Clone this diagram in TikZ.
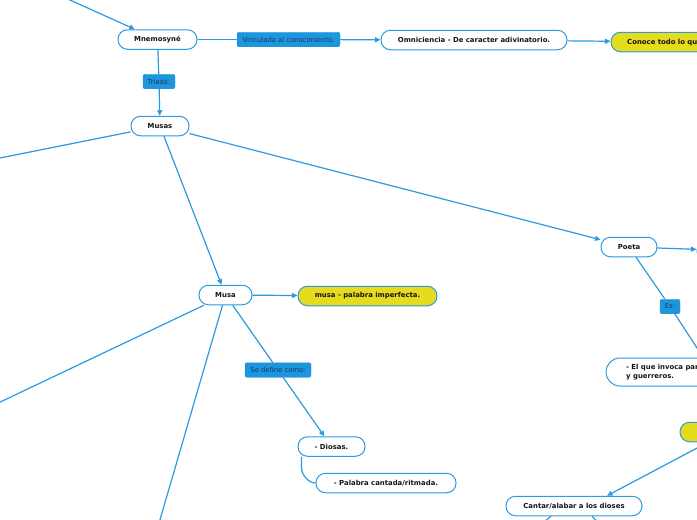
\documentclass[tikz,border=0pt]{standalone}
\usepackage{fontspec}
\setmainfont{DejaVu Sans}
\usetikzlibrary{arrows.meta}
\definecolor{edge}{HTML}{2B9AE0}
\definecolor{lbl}{HTML}{1E96DE}
\definecolor{yel}{HTML}{E6DC1E}
\definecolor{txt}{HTML}{151515}
\definecolor{lbltxt}{HTML}{1B3A5C}
\begin{document}
\begin{tikzpicture}[x=1pt,y=-1pt,
  topic/.style={draw=edge, line width=1pt, fill=white, rounded corners=9.5pt,
    minimum height=19.5pt, font=\fontsize{6.9}{8.6}\selectfont\bfseries, text=txt, inner sep=0pt},
  yeltopic/.style={topic, fill=yel},
  lab/.style={fill=lbl, draw=lbl, rounded corners=2pt, font=\fontsize{6.8}{8}\selectfont,
    text=lbltxt, inner sep=0pt, minimum height=14.5pt},
  plain/.style={font=\fontsize{6.9}{8.8}\selectfont\bfseries, text=txt, inner sep=0pt},
  conn/.style={draw=edge, line width=1.2pt},
  arr/.style={conn, -{Triangle[length=5.5pt,width=5pt]}}
]
\useasboundingbox (0,0) rectangle (697,520);
\clip (0,0) rectangle (697,520);

% nodes
\node[topic, minimum width=79pt] (mne) at (157.5,39.5) {Mnemosyné};
\node[lab, minimum width=103pt] (vin) at (288.5,39.5) {Vinculada al conocimiento.};
\node[topic, minimum width=186pt] (omn) at (474,40) {Omniciencia - De caracter adivinatorio.};
\node[yeltopic, minimum width=160pt] (con) at (691,42) {};
\node[plain, anchor=west] (cont) at (627,42.5) {Conoce todo lo que};
\node[lab, minimum width=32pt] (tri) at (159,81.5) {Triada:};
\node[topic, minimum width=58pt] (musas) at (160,126) {Musas};
\node[topic, minimum width=53pt] (musa) at (225.5,295) {Musa};
\node[yeltopic, minimum width=139pt] (pal) at (367.5,296) {musa - palabra imperfecta.};
\node[lab, minimum width=66pt] (sed) at (278,370) {Se define como:};
\node[topic, minimum width=67pt] (dio) at (331.5,446.5) {- Diosas.};
\node[topic, minimum width=140pt] (pcr) at (386,483) {- Palabra cantada/ritmada.};
\node[topic, minimum width=56pt] (poe) at (629,247) {Poeta};
\node[topic, minimum width=96pt] (pr) at (745,251) {};
\node[lab, minimum width=20pt] (es) at (670,306.5) {Es:};
\node[topic, minimum width=180pt, minimum height=28pt, rounded corners=14pt] (inv) at (696,372) {};
\node[plain, anchor=west, align=left] (invt) at (626,372) {- El que invoca para\\y guerreros.};
\node[yeltopic, minimum width=56pt] (y2) at (708,432) {};
\node[topic, minimum width=136pt] (can) at (574,506) {Cantar/alabar a los dioses};

% off-picture ends
\coordinate (src) at (50,-9);
\coordinate (mL) at (-10,160);
\coordinate (mLD) at (-20,411.6);
\coordinate (mD) at (157,530);
\coordinate (esT) at (712,371);
\coordinate (cd1) at (538,527);
\coordinate (cd2) at (603,527);

% connectors
\draw[arr] (src) -- (mne);
\draw[conn] (mne) -- (vin);
\draw[arr] (vin) -- (omn);
\draw[arr] (omn) -- (con);
\draw[conn] (mne) -- (tri);
\draw[arr] (tri) -- (musas);
\draw[conn] (musas) -- (mL);
\draw[arr] (musas) -- (musa);
\draw[arr] (musas) -- (poe);
\draw[arr] (poe) -- (pr);
\draw[conn] (poe) -- (es);
\draw[arr] (es) -- (esT);
\draw[arr] (musa) -- (pal);
\draw[conn] (musa) -- (mLD);
\draw[conn] (musa) -- (mD);
\draw[conn] (musa) -- (sed);
\draw[arr] (sed) -- (dio);
\draw[conn] ([xshift=4pt]dio.south west) -- ++(0,11) .. controls +(0,7) and +(-7,0) .. (pcr.west);
\draw[arr] (y2.south) -- ([xshift=33pt]can.north);
\draw[conn] ([xshift=-23pt]can.south) -- (cd1);
\draw[conn] ([xshift=18pt]can.south) -- (cd2);
\end{tikzpicture}
\end{document}
